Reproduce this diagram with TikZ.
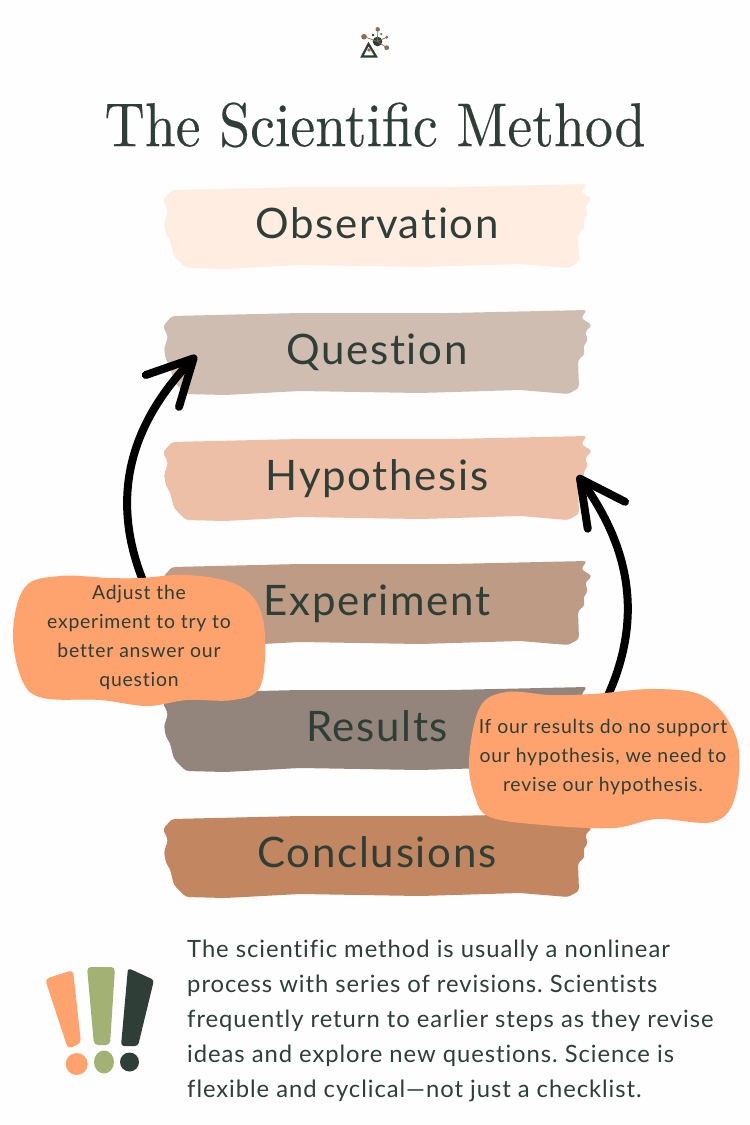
\documentclass[tikz,border=0pt]{standalone}
\usepackage{fontspec}
\newfontfamily\stripfont[LetterSpace=4,Ligatures=NoCommon]{Lato}
\newfontfamily\titlefont[FakeBold=0.25,FakeStretch=0.9]{lmroman10-regular.otf}
\usetikzlibrary{arrows.meta}
\definecolor{ink}{HTML}{2F3E36}
\definecolor{peach}{HTML}{FFA36E}
\definecolor{sage}{HTML}{A3B174}
\definecolor{clay}{HTML}{8F6B4F}
\definecolor{paper}{HTML}{FEFEFE}
\definecolor{observationtone}{HTML}{FFEDE2}
\definecolor{questiontone}{HTML}{CFBDB1}
\definecolor{hypothesistone}{HTML}{EDBFA6}
\definecolor{experimenttone}{HTML}{BD9B84}
\definecolor{resultstone}{HTML}{93857B}
\definecolor{conclusionstone}{HTML}{C28660}
\tikzset{
  striplabel/.style={inner sep=0pt,minimum width=427pt,text height=55pt,text depth=31pt,text=ink,
    font=\stripfont\fontsize{42}{42}\selectfont},
  note/.style={inner sep=0pt,align=center,text=ink,font=\stripfont\frenchspacing\fontsize{19.4}{29}\selectfont},
  bigarrow/.style={line width=8pt,line cap=round,
    -{Straight Barb[length=45pt,width=46pt,line width=8pt,round]}},
}
\newcommand{\brushstrip}[4]{
  \begin{scope}[shift={(0,#2)}]
    \fill[#3,rounded corners=3pt] (172,6) -- (163,16) -- (168,27) -- (164,39) -- (166,50) -- (170,56)
      -- (174,72) -- (186,84) -- (225,85) -- (300,81) -- (420,83) -- (520,80) -- (568,84) -- (579,78)
      -- (578,50) -- (585,44) -- (583,37) -- (588,30) -- (585,22) -- (592,15) -- (581,8) -- (587,0)
      -- (450,3) -- (300,3) -- cycle;
    \node[striplabel] (#1) at (377,42.5) {#4};
  \end{scope}
}
\begin{document}
\begin{tikzpicture}[x=1pt,y=-1pt]
  \useasboundingbox[fill=paper] (0,0) rectangle (750,1125);

  % logo
  \fill[ink] (377.5,41.5) circle (4.8) (373,35) circle (1.3) (381,34) circle (1);
  \draw[clay,line width=.7pt] (364,36.7) -- (377.5,41.5) -- (377.7,29.3) (377.5,41.5) -- (386.7,37.3) (377.5,41.5) -- (386.7,47.7);
  \fill[clay] (364,36.7) circle (2.8) (377.7,29.3) circle (2.2) (386.7,37.3) circle (1.6) (386.7,47.7) circle (2.4);
  \draw[ink,line width=2.2pt,line join=miter] (368.5,44) -- (362,56.5) -- (376,56.5) -- cycle;
  \fill[clay] (369,50) circle (1.8);

  \node[inner sep=0pt,text=ink,font=\titlefont\fontsize{62}{62}\selectfont] (title) at (375,125) {The Scientific Method};

  \brushstrip{observation}{184}{observationtone}{Observation}
  \brushstrip{question}{310}{questiontone}{Question}
  \brushstrip{hypothesis}{436}{hypothesistone}{Hypothesis}
  \brushstrip{experiment}{561}{experimenttone}{Experiment}
  \brushstrip{results}{687}{resultstone}{Results}
  \brushstrip{conclusions}{813}{conclusionstone}{Conclusions}

  % the notes go on top of the arrows, their text is placed first for the anchors
  \path node[note,text opacity=0] (adjustnote) at (139,638) {Adjust the\\experiment to try to\\better answer our\\question};
  \path node[note,text opacity=0] (revisenote) at (603,757) {If our results do no support\\our hypothesis, we need to\\revise our hypothesis.};

  \draw[bigarrow] ([shift={(6,0)}]adjustnote.north) .. controls (111,505) and (125,430) .. ([shift={(33,3)}]question.west);
  \draw[bigarrow] ([shift={(1,-15)}]revisenote.north) .. controls (645,620) and (630,548) .. ([shift={(-13,-3)}]hypothesis.east);

  \fill[peach] plot[smooth cycle,tension=.6] coordinates {(13,633) (25,587) (60,576) (110,578) (140,578) (187,575)
    (233,583) (257,603) (265,637) (260,687) (233,700) (187,700) (147,706) (100,700) (43,698) (22,680)};
  \fill[peach] plot[smooth cycle,tension=.6] coordinates {(469,760) (480,707) (507,692) (550,695) (593,694) (657,689)
    (707,698) (737,740) (735,797) (713,822) (657,819) (613,828) (543,825) (490,817) (475,797)};
  \node[note] at (adjustnote) {Adjust the\\experiment to try to\\better answer our\\question};
  \node[note] at (revisenote) {If our results do no support\\our hypothesis, we need to\\revise our hypothesis.};

  % exclamation marks
  \fill[peach,rounded corners=4pt] (45,979) -- (73,970) -- (81,1043) -- (68,1049) -- cycle;
  \fill[peach] (76.7,1064) circle (11);
  \fill[sage,rounded corners=4pt] (87,967) -- (115,967) -- (110,1045) -- (94,1045) -- cycle;
  \fill[sage] (104,1062) ellipse (10 and 11.5);
  \fill[ink,rounded corners=3pt] (128,968) -- (154,980) -- (138,1046) -- (121,1046) -- cycle;
  \fill[ink] (129.5,1062) circle (9.5);

  \node[anchor=west,inner sep=0pt,align=left,text=ink,font=\stripfont\frenchspacing\fontsize{23.8}{35}\selectfont] (summary) at (187,1021)
    {The scientific method is usually a nonlinear\\process with series of revisions. Scientists\\frequently return to earlier steps as they revise\\ideas and explore new questions. Science is\\flexible and cyclical—not just a checklist.};
\end{tikzpicture}
\end{document}
